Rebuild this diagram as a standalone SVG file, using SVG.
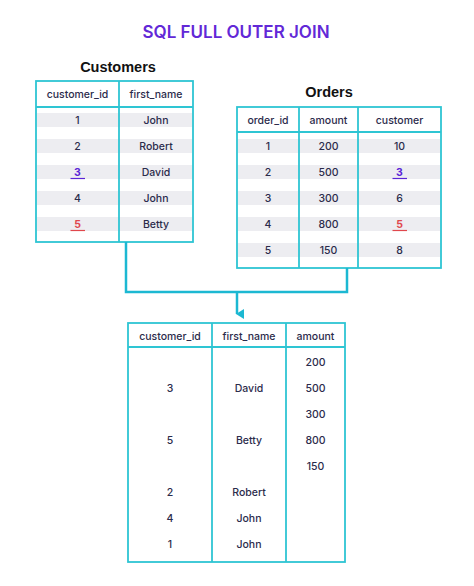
<svg xmlns="http://www.w3.org/2000/svg" width="474" height="586" viewBox="0 0 474 586">
<defs>
<style>
.tbl{fill:none;stroke:#2ec5d3;stroke-width:1.8}
.ln{stroke:#2ec5d3;stroke-width:1.8}
.band{fill:#ededf1}
.t{font-family:Inter,"Noto Sans",sans-serif;font-size:10.5px;font-weight:500;fill:#2b2b4b;text-anchor:middle}
.title{font-family:Inter,"Noto Sans",sans-serif;font-size:17px;font-weight:600;fill:#6228d7;text-anchor:middle}
.cap{font-family:"Liberation Sans",Arial,sans-serif;font-size:14.5px;font-weight:bold;fill:#111;text-anchor:middle}
.pu{fill:#5a24d6;font-weight:700}
.rd{fill:#e0474c;font-weight:700}
.conn{fill:none;stroke:#1cb8d2;stroke-width:2.5}
</style>
<marker id="ah" markerWidth="10" markerHeight="8" refX="5" refY="7" orient="auto" markerUnits="userSpaceOnUse" viewBox="0 0 10 8">
<path d="M0,0 L10,0 L5,8 Z" fill="#1cb8d2"/>
</marker>
</defs>
<rect width="474" height="586" fill="#fff"/>
<text class="title" x="236" y="38">SQL FULL OUTER JOIN</text>

<g id="customers">
<text class="cap" x="118" y="72">Customers</text>
<rect class="band" x="37" y="113" width="155" height="14"/>
<rect class="band" x="37" y="139" width="155" height="14"/>
<rect class="band" x="37" y="165" width="155" height="14"/>
<rect class="band" x="37" y="191" width="155" height="14"/>
<rect class="band" x="37" y="217" width="155" height="14"/>
<rect class="tbl" x="36" y="81" width="157" height="161"/>
<line class="ln" x1="36" y1="107" x2="193" y2="107"/>
<line class="ln" x1="119" y1="81" x2="119" y2="242"/>
<text class="t" x="77.5" y="98">customer_id</text>
<text class="t" x="156" y="98">first_name</text>
<text class="t" x="77.5" y="124">1</text>
<text class="t" x="156" y="124">John</text>
<text class="t" x="77.5" y="150">2</text>
<text class="t" x="156" y="150">Robert</text>
<text class="t pu" x="77.5" y="176">3</text>
<line x1="70.5" y1="178.5" x2="85" y2="178.5" stroke="#5a24d6" stroke-width="1.2"/>
<text class="t" x="156" y="176">David</text>
<text class="t" x="77.5" y="202">4</text>
<text class="t" x="156" y="202">John</text>
<text class="t rd" x="77.5" y="228">5</text>
<line x1="70.5" y1="230.5" x2="85" y2="230.5" stroke="#e0474c" stroke-width="1.2"/>
<text class="t" x="156" y="228">Betty</text>
</g>

<g id="orders">
<text class="cap" x="329" y="97">Orders</text>
<rect class="band" x="238" y="139" width="202" height="14"/>
<rect class="band" x="238" y="165" width="202" height="14"/>
<rect class="band" x="238" y="191" width="202" height="14"/>
<rect class="band" x="238" y="217" width="202" height="14"/>
<rect class="band" x="238" y="243" width="202" height="14"/>
<rect class="tbl" x="237" y="107" width="204" height="161"/>
<line class="ln" x1="237" y1="132" x2="441" y2="132"/>
<line class="ln" x1="299" y1="107" x2="299" y2="268"/>
<line class="ln" x1="358" y1="107" x2="358" y2="268"/>
<text class="t" x="268" y="124">order_id</text>
<text class="t" x="328.5" y="124">amount</text>
<text class="t" x="399.5" y="124">customer</text>
<text class="t" x="268" y="150">1</text>
<text class="t" x="328.5" y="150">200</text>
<text class="t" x="399.5" y="150">10</text>
<text class="t" x="268" y="176">2</text>
<text class="t" x="328.5" y="176">500</text>
<text class="t pu" x="399.5" y="176">3</text>
<line x1="392.5" y1="178.5" x2="407" y2="178.5" stroke="#5a24d6" stroke-width="1.2"/>
<text class="t" x="268" y="202">3</text>
<text class="t" x="328.5" y="202">300</text>
<text class="t" x="399.5" y="202">6</text>
<text class="t" x="268" y="228">4</text>
<text class="t" x="328.5" y="228">800</text>
<text class="t rd" x="399.5" y="228">5</text>
<line x1="392.5" y1="230.5" x2="407" y2="230.5" stroke="#e0474c" stroke-width="1.2"/>
<text class="t" x="268" y="254">5</text>
<text class="t" x="328.5" y="254">150</text>
<text class="t" x="399.5" y="254">8</text>
</g>

<g id="connectors">
<path class="conn" d="M126,242 V292 H347 V268"/>
<line class="conn" x1="237" y1="292" x2="237" y2="314" marker-end="url(#ah)"/>
</g>

<g id="result">
<rect class="tbl" x="128" y="323" width="217" height="239"/>
<line class="ln" x1="128" y1="347" x2="345" y2="347"/>
<line class="ln" x1="212" y1="323" x2="212" y2="562"/>
<line class="ln" x1="286" y1="323" x2="286" y2="562"/>
<text class="t" x="170" y="339.5">customer_id</text>
<text class="t" x="249" y="339.5">first_name</text>
<text class="t" x="315.5" y="339.5">amount</text>
<text class="t" x="315.5" y="366">200</text>
<text class="t" x="170" y="392">3</text>
<text class="t" x="249" y="392">David</text>
<text class="t" x="315.5" y="392">500</text>
<text class="t" x="315.5" y="418">300</text>
<text class="t" x="170" y="444">5</text>
<text class="t" x="249" y="444">Betty</text>
<text class="t" x="315.5" y="444">800</text>
<text class="t" x="315.5" y="470">150</text>
<text class="t" x="170" y="496">2</text>
<text class="t" x="249" y="496">Robert</text>
<text class="t" x="170" y="522">4</text>
<text class="t" x="249" y="522">John</text>
<text class="t" x="170" y="548">1</text>
<text class="t" x="249" y="548">John</text>
</g>
</svg>
